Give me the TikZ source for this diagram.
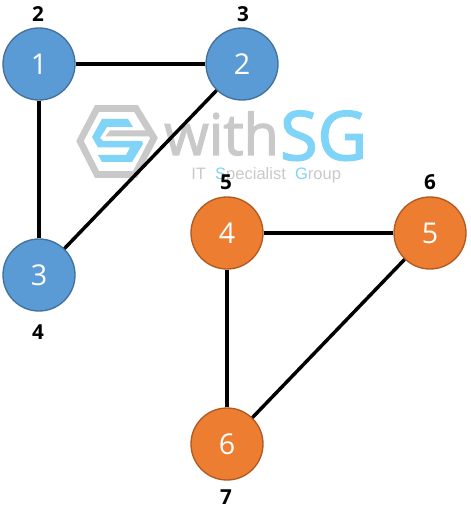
\documentclass[tikz,border=0pt]{standalone}
\usepackage{fontspec}
\setmainfont{Open Sans}
\newfontfamily\logofont{Liberation Sans}
\newfontfamily\logoheavy[FakeBold=2.5]{Open Sans}
\newfontfamily\logomid[FakeBold=2]{Open Sans}
\definecolor{bluefill}{HTML}{5B9BD5}
\definecolor{blueline}{HTML}{41719C}
\definecolor{orangefill}{HTML}{ED7D31}
\definecolor{orangeline}{HTML}{AE5A21}
\definecolor{logogray}{HTML}{C9C9C9}
\definecolor{logoblue}{HTML}{80D4F8}
\tikzset{
  vbase/.style={circle,minimum size=54pt,inner sep=0pt,line width=1pt,text=white,font=\fontsize{21.5}{21.5}\selectfont},
  bluev/.style={vbase,fill=bluefill,draw=blueline},
  orangev/.style={vbase,fill=orangefill,draw=orangeline},
  edgeline/.style={line width=2.6pt,black},
  numlabel/.style={font=\bfseries\fontsize{15.5}{15.5}\selectfont,inner sep=0pt},
  logoring/.style={draw=logogray,line width=5pt,line join=miter}
}
\begin{document}
\begin{tikzpicture}[x=0.75pt,y=-0.75pt]
\useasboundingbox (0,0) rectangle (470,516);
\fill[white] (0,0) rectangle (470,516);
% logo
\draw[logoring] (136,108.5) -- (154,138) -- (135,174.5) -- (97,174.5) -- (80,141) -- (97,108.5) -- cycle;
\fill[logogray] (110,130.5) -- (150,130.5) -- (153,136.5) -- (105,136.5) -- cycle;
\fill[logoblue] (102,119) -- (128,119) -- (133,127) -- (107,127) -- (100,138) -- (103,141) -- (142,141) -- (143,144) -- (132,162) -- (102,162) -- (98,155) -- (126,155) -- (130,147.5) -- (98,147.5) -- (92,137) -- cycle;
\node[inner sep=0pt,anchor=base west,text=logogray,font=\logomid\fontsize{43}{43}\selectfont] (w) at (164,155) {with};
\node[inner sep=0pt,anchor=base west,text=logoblue,font=\logoheavy\fontsize{51}{51}\selectfont] (sg) at (280,160) {SG};
\node[inner sep=0pt,anchor=base west,text=logogray,font=\logofont\fontsize{12.4}{12}\selectfont] (tag) at (191,180) {IT\ \ {\color{logoblue}S}pecialist\ \ {\color{logoblue}G}roup};
% vertices
\node[bluev] (n1) at (39,64) {1};
\node[bluev] (n2) at (242,64) {2};
\node[bluev] (n3) at (39,275) {3};
\node[orangev] (n4) at (227,233) {4};
\node[orangev] (n5) at (430,233) {5};
\node[orangev] (n6) at (227,444) {6};
% edges
\draw[edgeline] (n1) -- (n2);
\draw[edgeline] (n1) -- (n3);
\draw[edgeline] (n2) -- (n3);
\draw[edgeline] (n4) -- (n5);
\draw[edgeline] (n4) -- (n6);
\draw[edgeline] (n5) -- (n6);
% labels
\node[numlabel] (l1) at (38,14) {2};
\node[numlabel] (l2) at (243,14) {3};
\node[numlabel] (l3) at (38,332) {4};
\node[numlabel] (l4) at (226,182) {5};
\node[numlabel] (l5) at (430,182) {6};
\node[numlabel] (l6) at (226,497) {7};
\end{tikzpicture}
\end{document}
